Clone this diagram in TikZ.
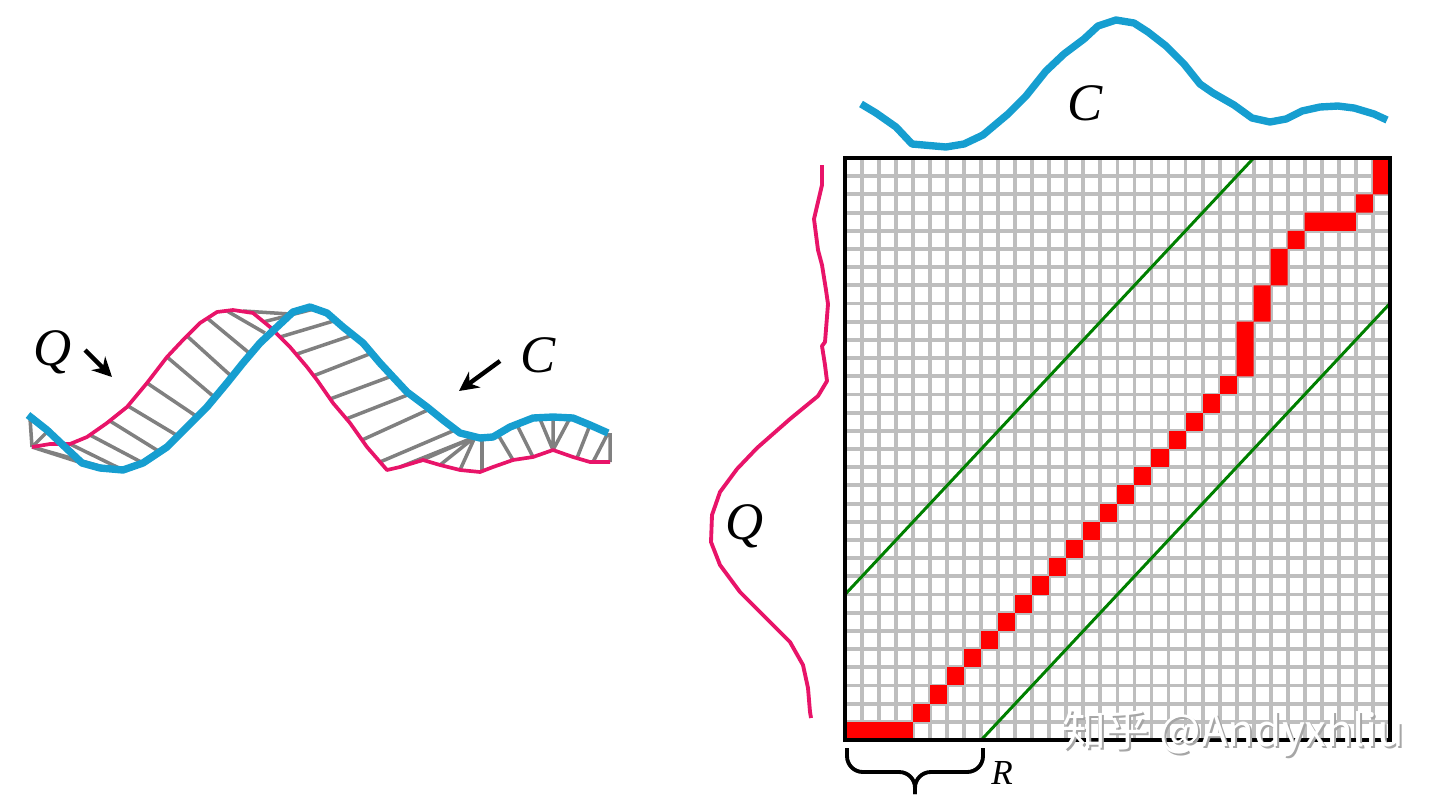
\documentclass[tikz,border=0pt]{standalone}
\usepackage{fontspec}
\setmainfont{Liberation Serif}
\newfontfamily\cjkfont{Noto Sans CJK SC}
\usetikzlibrary{arrows.meta}
\definecolor{qpink}{RGB}{232,20,105}
\definecolor{cblue}{RGB}{22,158,208}
\definecolor{bandgreen}{RGB}{0,128,0}
\definecolor{cellgray}{RGB}{190,190,190}
\definecolor{hatchgray}{RGB}{128,128,128}

\begin{document}
\begin{tikzpicture}[x=0.02cm,y=-0.02cm]
    \tikzstyle{cseries} = [draw=cblue,line width=4.2pt,line join=round]
    \tikzstyle{qseries} = [draw=qpink,line width=2.1pt,line join=round]
    \tikzstyle{hatch} = [draw=hatchgray,line width=2pt]
    \tikzstyle{cellline} = [draw=cellgray,line width=2.2pt]
    \tikzstyle{pathcell} = [fill=red]
    \tikzstyle{bandline} = [draw=bandgreen,line width=1.7pt]
    \tikzstyle{frame} = [draw=black,line width=2.3pt]
    \tikzstyle{serieslabel} = [inner sep=4pt,font=\fontsize{30}{36}\selectfont\itshape]
    \tikzstyle{pointer} = [line width=2.5pt,-{Stealth[length=11pt,width=11pt]}]
    \tikzstyle{bandbrace} = [line width=2.2pt,rounded corners=9pt]
    \useasboundingbox (0,0) rectangle (1440,798);

    % warping between the two series
    \draw[hatch] (32,447)--(30,418) (32,447)--(47,432) (32,447)--(82,463)
                 (32,447)--(110,469) (70,444)--(123,470);
    \draw[hatch] (90,435)--(143,463) (110,421)--(160,452) (128,406)--(178,436)
                 (147,383)--(196,416) (167,357)--(213,396) (187,336)--(230,375)
                 (207,318)--(248,352) (227,311)--(265,333) (243,311)--(290,314);
    \draw[hatch] (263,322)--(318,308) (280,337)--(337,320) (297,354)--(353,335)
                 (313,376)--(372,353) (330,399)--(392,376) (346,419)--(410,394)
                 (362,440)--(430,409) (380,462)--(455,430);
    \draw[hatch] (400,467)--(475,437) (420,461)--(475,437) (440,465)--(475,437)
                 (460,470)--(475,437) (482,472)--(482,438) (513,460)--(497,433)
                 (533,457)--(517,425) (553,450)--(540,419) (553,450)--(553,417)
                 (553,450)--(570,418) (577,458)--(590,425) (593,462)--(608,433)
                 (610,462)--(610,433);
    \draw[qseries](32,447)--(50,444)--(70,444)--(87,437)--(107,423)--(127,407)
        --(147,383)--(167,357)--(183,340)--(200,323)--(217,312)--(233,310)
        --(253,313)--(270,327)--(290,347)--(307,367)--(317,380)--(333,403)
        --(350,423)--(367,447)--(387,470)--(400,467)--(423,460)--(440,465)
        --(460,470)--(480,472)--(493,467)--(513,460)--(533,457)--(553,450)
        --(573,457)--(590,462)--(610,462);
    \draw[cseries](28,415)--(47,430)--(65,447)--(82,463)--(100,468)--(123,470)
        --(143,463)--(167,447)--(187,427)--(207,407)--(227,383)--(243,363)
        --(260,343)--(277,327)--(293,312)--(310,307)--(327,313)--(343,327)
        --(363,343)--(380,363)--(393,377)--(407,392)--(427,407)--(443,420)
        --(460,433)--(480,438)--(493,437)--(510,427)--(533,418)--(553,417)
        --(573,418)--(590,425)--(608,433);
    \node[serieslabel] (qleft) at (53,352) {Q};
    \node[serieslabel] (cleft) at (538,355) {C};
    \coordinate (qtail) at (85,350);
    \coordinate (qtip) at (112,377);
    \coordinate (ctail) at (500,361);
    \coordinate (ctip) at (459,391);
    \draw[pointer] (qtail) -- (qtip);
    \draw[pointer] (ctail) -- (ctip);

    % cost matrix with the band and the warping path
    \begin{scope}[shift={(845,740)},x=0.3406cm,y=0.3638cm]
    \foreach \i in {1,...,31} {
        \draw[cellline] (\i,0) -- (\i,32);
        \draw[cellline] (0,\i) -- (32,\i);
    }
    \fill[pathcell] (0,0) rectangle (4,1);
    \foreach \k in {1,...,19}
        \fill[pathcell] (\k+3,\k) rectangle ++(1,1);
    \fill[pathcell] (23,20) rectangle (24,23) (24,23) rectangle (25,25)
                    (25,25) rectangle (26,27) (26,27) rectangle (27,28)
                    (27,28) rectangle (30,29) (30,29) rectangle (31,30)
                    (31,30) rectangle (32,32);
    \draw[bandline] (0,8) -- (24,32);
    \draw[bandline] (8,0) -- (32,24);
    \draw[frame] (0,0) rectangle (32,32);
    \end{scope}

    \draw[cseries](861,104)--(876,113)--(896,127)--(912,144)--(946,147)
        --(964,144)--(983,135)--(1008,114)--(1026,96)--(1046,71)--(1064,54)
        --(1084,39)--(1098,26)--(1116,20)--(1134,23)--(1148,32)--(1166,46)
        --(1184,64)--(1200,84)--(1213,93)--(1234,105)--(1252,118)--(1270,122)
        --(1286,119)--(1302,111)--(1320,107)--(1338,106)--(1354,108)
        --(1374,114)--(1387,120);
    \draw[qseries,line width=2.2pt](822,165)--(822,185)--(814,219)--(818,250)
        --(822,265)--(826,290)--(828,304)--(825,342)--(822,346)--(825,365)
        --(827,381)--(818,396)--(790,419)--(757,448)--(737,469)--(720,492)
        --(712,515)--(711,542)--(720,565)--(740,592)--(763,615)--(790,642)
        --(803,665)--(808,688)--(810,712)--(811,718);
    \node[serieslabel] (ctop) at (1085,103) {C};
    \node[serieslabel] (qside) at (745,526) {Q};

    \coordinate (bandL) at (847,748);
    \coordinate (bandR) at (983,748);
    \coordinate (bandmid) at (915,772);
    \coordinate (bandtip) at (915,794);
    \draw[bandbrace] (bandL) |- (bandmid) -- (bandtip);
    \draw[bandbrace] (bandR) |- (bandmid) -- (bandtip);
    \node[serieslabel,font=\fontsize{20}{24}\selectfont\itshape] (rlab)
        at (1002,773) {R};

    \node[text=black!35,font=\cjkfont\fontsize{25}{30}\selectfont] (markshadow)
        at (1235,735) {知乎 @Andyxhliu};
    \node[text=white,font=\cjkfont\fontsize{25}{30}\selectfont] (mark)
        at (1233,733) {知乎 @Andyxhliu};
\end{tikzpicture}
\end{document}
